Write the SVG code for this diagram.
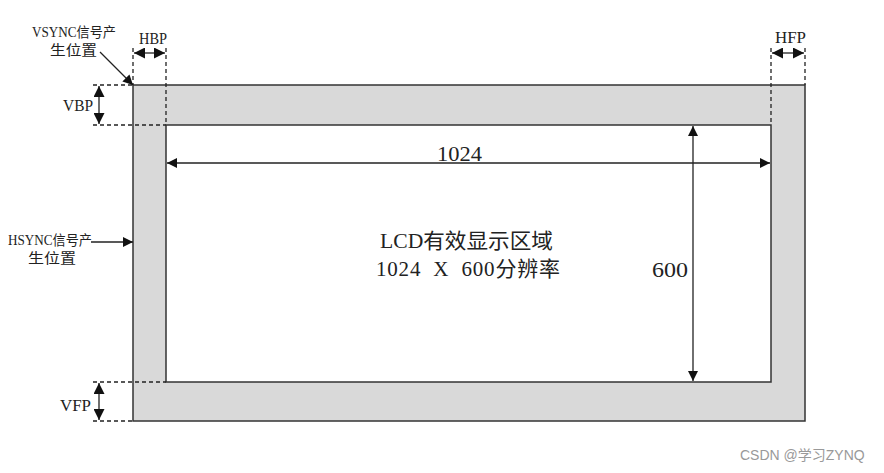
<svg xmlns="http://www.w3.org/2000/svg" width="884" height="473" viewBox="0 0 884 473">
<style>
.lbl{font-family:"Liberation Serif","Noto Sans CJK SC",serif;fill:#222}
.sm{font-size:14px}
.md{font-size:16px}
.lg{font-size:21px}
.dash{stroke:#222;stroke-width:1.3;stroke-dasharray:4 3;fill:none}
.ln{stroke:#222;stroke-width:1.3;fill:none}
</style>
<defs>
<marker id="ah" viewBox="0 0 10 10" refX="10" refY="5" markerWidth="10" markerHeight="10" markerUnits="userSpaceOnUse" orient="auto-start-reverse">
<path d="M0,0 L10,5 L0,10 Z" fill="#111"/>
</marker>
<marker id="ahs" viewBox="0 0 10 10" refX="10" refY="5" markerWidth="12" markerHeight="11" markerUnits="userSpaceOnUse" orient="auto-start-reverse">
<path d="M0,0 L10,5 L0,10 Z" fill="#111"/>
</marker>
</defs>
<rect width="884" height="473" fill="#fff"/>
<g id="panel">
<rect x="133" y="85" width="672" height="336" fill="#d9d9d9" stroke="#333" stroke-width="1.5"/>
<rect x="166" y="125" width="605" height="257" fill="#fff" stroke="#333" stroke-width="1.5"/>
</g>
<g id="connectors">
<line class="dash" x1="133" y1="48" x2="133" y2="85"/>
<line class="dash" x1="166" y1="48" x2="166" y2="125"/>
<line class="dash" x1="771" y1="48" x2="771" y2="125"/>
<line class="dash" x1="805" y1="48" x2="805" y2="85"/>
<line class="dash" x1="93" y1="85" x2="133" y2="85"/>
<line class="dash" x1="93" y1="125" x2="166" y2="125"/>
<line class="dash" x1="93" y1="382" x2="166" y2="382"/>
<line class="dash" x1="93" y1="421" x2="133" y2="421"/>
<line class="ln" x1="134" y1="53" x2="165" y2="53" marker-start="url(#ahs)" marker-end="url(#ahs)"/>
<line class="ln" x1="772" y1="53" x2="804" y2="53" marker-start="url(#ahs)" marker-end="url(#ahs)"/>
<line class="ln" x1="99" y1="86" x2="99" y2="124" marker-start="url(#ahs)" marker-end="url(#ahs)"/>
<line class="ln" x1="99" y1="383" x2="99" y2="420" marker-start="url(#ahs)" marker-end="url(#ahs)"/>
<line class="ln" x1="100" y1="52" x2="133" y2="85" marker-end="url(#ah)"/>
<line class="ln" x1="91" y1="242" x2="133" y2="242" marker-end="url(#ah)"/>
<line class="ln" x1="167" y1="163" x2="770" y2="163" marker-start="url(#ah)" marker-end="url(#ah)"/>
<line class="ln" x1="693" y1="126" x2="693" y2="381" marker-start="url(#ah)" marker-end="url(#ah)"/>
</g>
<g id="labels">
<text class="lbl sm" x="32" y="37" textLength="84" lengthAdjust="spacingAndGlyphs">VSYNC信号产</text>
<text class="lbl sm" x="50" y="55" textLength="47" lengthAdjust="spacingAndGlyphs">生位置</text>
<text class="lbl md" x="139" y="44" textLength="28" lengthAdjust="spacingAndGlyphs">HBP</text>
<text class="lbl md" x="775" y="43" textLength="31" lengthAdjust="spacingAndGlyphs">HFP</text>
<text class="lbl md" x="63" y="111" textLength="30" lengthAdjust="spacingAndGlyphs">VBP</text>
<text class="lbl md" x="60" y="411" textLength="31" lengthAdjust="spacingAndGlyphs">VFP</text>
<text class="lbl sm" x="8" y="245" textLength="84" lengthAdjust="spacingAndGlyphs">HSYNC信号产</text>
<text class="lbl sm" x="28" y="263" textLength="48" lengthAdjust="spacingAndGlyphs">生位置</text>
<text class="lbl lg" x="437" y="161" textLength="45" lengthAdjust="spacingAndGlyphs">1024</text>
<text class="lbl lg" x="652" y="277" textLength="36" lengthAdjust="spacingAndGlyphs">600</text>
<text class="lbl lg" x="380" y="248" textLength="173" lengthAdjust="spacingAndGlyphs">LCD有效显示区域</text>
<text class="lbl lg" x="376" y="276" textLength="184" lengthAdjust="spacing" xml:space="preserve" style="white-space:pre">1024  X  600分辨率</text>
<text x="740" y="460" style="font-family:'Liberation Sans','Noto Sans CJK SC',sans-serif;font-size:14px;fill:#999">CSDN @学习ZYNQ</text>
</g>
</svg>
